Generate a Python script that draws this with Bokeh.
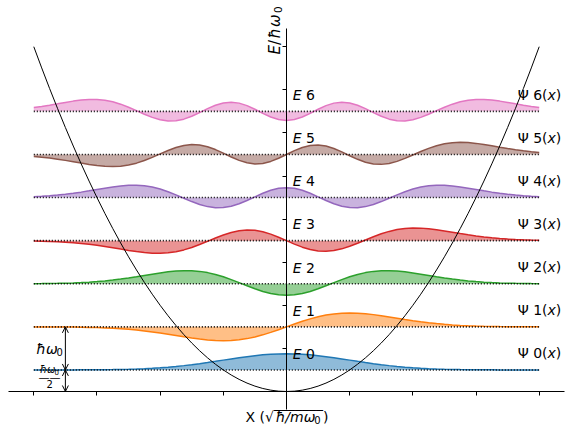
from bokeh.plotting import figure
from bokeh.models import (LinearAxis, FixedTicker, Label, Arrow, OpenHead,
                          Range1d, CustomJSTickFormatter, ColumnDataSource)
from bokeh.embed import file_html
from bokeh.resources import INLINE

# ---------------- data ----------------
x_pos = [-4.0, -3.875, -3.75, -3.625, -3.5, -3.375, -3.25, -3.125, -3.0, -2.875,
         -2.75, -2.625, -2.5, -2.375, -2.25, -2.125, -2.0, -1.875, -1.75, -1.625,
         -1.5, -1.375, -1.25, -1.125, -1.0, -0.875, -0.75, -0.625, -0.5, -0.375,
         -0.25, -0.125,
         0.0,
         0.125, 0.25, 0.375, 0.5, 0.625, 0.75, 0.875, 1.0, 1.125, 1.25, 1.375,
         1.5, 1.625, 1.75, 1.875, 2.0, 2.125, 2.25, 2.375, 2.5, 2.625, 2.75,
         2.875, 3.0, 3.125, 3.25, 3.375, 3.5, 3.625, 3.75, 3.875, 4.0]

potential = [8.0, 7.5078125, 7.03125, 6.5703125, 6.125, 5.6953125, 5.28125,
             4.8828125, 4.5, 4.1328125, 3.78125, 3.4453125, 3.125, 2.8203125,
             2.53125, 2.2578125, 2.0, 1.7578125, 1.53125, 1.3203125, 1.125,
             0.9453125, 0.78125, 0.6328125, 0.5, 0.3828125, 0.28125, 0.1953125,
             0.125, 0.0703125, 0.03125, 0.0078125,
             0.0,
             0.0078125, 0.03125, 0.0703125, 0.125, 0.1953125, 0.28125, 0.3828125,
             0.5, 0.6328125, 0.78125, 0.9453125, 1.125, 1.3203125, 1.53125,
             1.7578125, 2.0, 2.2578125, 2.53125, 2.8203125, 3.125, 3.4453125,
             3.78125, 4.1328125, 4.5, 4.8828125, 5.28125, 5.6953125, 6.125,
             6.5703125, 7.03125, 7.5078125, 8.0]

levels = [0, 1, 2, 3, 4, 5, 6]
energies = [0.5, 1.5, 2.5, 3.5, 4.5, 5.5, 6.5]

psi_0 = [0.0001, 0.0002, 0.0003, 0.0005, 0.0008, 0.0013, 0.0019, 0.0028, 0.0042,
         0.0060, 0.0086, 0.0120, 0.0165, 0.0224, 0.0299, 0.0393, 0.0508, 0.0648,
         0.0812, 0.1003, 0.1219, 0.1459, 0.1719, 0.1995, 0.2278, 0.2561, 0.2835,
         0.3089, 0.3314, 0.3501, 0.3640, 0.3726,
         0.3756,
         0.3726, 0.3640, 0.3501, 0.3314, 0.3089, 0.2835, 0.2561, 0.2278, 0.1995,
         0.1719, 0.1459, 0.1219, 0.1003, 0.0812, 0.0648, 0.0508, 0.0393, 0.0299,
         0.0224, 0.0165, 0.0120, 0.0086, 0.0060, 0.0042, 0.0028, 0.0019, 0.0013,
         0.0008, 0.0005, 0.0003, 0.0002, 0.0001]
psi_1 = [-0.0007, -0.0011, -0.0018, -0.0027, -0.0041, -0.0060, -0.0088, -0.0126,
         -0.0177, -0.0245, -0.0333, -0.0445, -0.0583, -0.0752, -0.0951, -0.1180,
         -0.1438, -0.1717, -0.2010, -0.2305, -0.2586, -0.2837, -0.3039, -0.3173,
         -0.3221, -0.3169, -0.3007, -0.2730, -0.2343, -0.1856, -0.1287, -0.0659,
         0.0,
         0.0659, 0.1287, 0.1856, 0.2343, 0.2730, 0.3007, 0.3169, 0.3221, 0.3173,
         0.3039, 0.2837, 0.2586, 0.2305, 0.2010, 0.1717, 0.1438, 0.1180, 0.0951,
         0.0752, 0.0583, 0.0445, 0.0333, 0.0245, 0.0177, 0.0126, 0.0088, 0.0060,
         0.0041, 0.0027, 0.0018, 0.0011, 0.0007]
psi_2 = [0.0028, 0.0042, 0.0064, 0.0094, 0.0137, 0.0194, 0.0272, 0.0373, 0.0502,
         0.0661, 0.0855, 0.1083, 0.1342, 0.1627, 0.1928, 0.2230, 0.2516, 0.2762,
         0.2943, 0.3036, 0.3017, 0.2870, 0.2584, 0.2160, 0.1611, 0.0962, 0.0251,
         -0.0478, -0.1172, -0.1779, -0.2252, -0.2553,
         -0.2656,
         -0.2553, -0.2252, -0.1779, -0.1172, -0.0478, 0.0251, 0.0962, 0.1611,
         0.2160, 0.2584, 0.2870, 0.3017, 0.3036, 0.2943, 0.2762, 0.2516, 0.2230,
         0.1928, 0.1627, 0.1342, 0.1083, 0.0855, 0.0661, 0.0502, 0.0373, 0.0272,
         0.0194, 0.0137, 0.0094, 0.0064, 0.0042, 0.0028]
psi_3 = [-0.0084, -0.0125, -0.0181, -0.0256, -0.0357, -0.0487, -0.0650, -0.0849,
         -0.1084, -0.1353, -0.1648, -0.1958, -0.2262, -0.2541, -0.2766, -0.2906,
         -0.2935, -0.2826, -0.2564, -0.2146, -0.1584, -0.0905, -0.0155, 0.0607,
         0.1315, 0.1900, 0.2302, 0.2473, 0.2392, 0.2061, 0.1510, 0.0798,
         0.0,
         -0.0798, -0.1510, -0.2061, -0.2392, -0.2473, -0.2302, -0.1900, -0.1315,
         -0.0607, 0.0155, 0.0905, 0.1584, 0.2146, 0.2564, 0.2826, 0.2935, 0.2906,
         0.2766, 0.2541, 0.2262, 0.1958, 0.1648, 0.1353, 0.1084, 0.0849, 0.0650,
         0.0487, 0.0357, 0.0256, 0.0181, 0.0125, 0.0084]
psi_4 = [0.0214, 0.0305, 0.0424, 0.0576, 0.0766, 0.0993, 0.1257, 0.1552, 0.1865,
         0.2177, 0.2464, 0.2696, 0.2838, 0.2859, 0.2730, 0.2435, 0.1971, 0.1355,
         0.0624, -0.0163, -0.0933, -0.1605, -0.2100, -0.2353, -0.2325, -0.2009,
         -0.1438, -0.0679, 0.0169, 0.0994, 0.1683, 0.2140,
         0.2300,
         0.2140, 0.1683, 0.0994, 0.0169, -0.0679, -0.1438, -0.2009, -0.2325,
         -0.2353, -0.2100, -0.1605, -0.0933, -0.0163, 0.0624, 0.1355, 0.1971,
         0.2435, 0.2730, 0.2859, 0.2838, 0.2696, 0.2464, 0.2177, 0.1865, 0.1552,
         0.1257, 0.0993, 0.0766, 0.0576, 0.0424, 0.0305, 0.0214]
psi_5 = [-0.0467, -0.0636, -0.0843, -0.1091, -0.1375, -0.1684, -0.2004, -0.2309,
         -0.2569, -0.2749, -0.2812, -0.2725, -0.2463, -0.2021, -0.1412, -0.0674,
         0.0131, 0.0921, 0.1603, 0.2087, 0.2302, 0.2206, 0.1799, 0.1131, 0.0294,
         -0.0588, -0.1377, -0.1944, -0.2193, -0.2079, -0.1617, -0.0883,
         0.0,
         0.0883, 0.1617, 0.2079, 0.2193, 0.1944, 0.1377, 0.0588, -0.0294, -0.1131,
         -0.1799, -0.2206, -0.2302, -0.2087, -0.1603, -0.0921, -0.0131, 0.0674,
         0.1412, 0.2021, 0.2463, 0.2725, 0.2812, 0.2749, 0.2569, 0.2309, 0.2004,
         0.1684, 0.1375, 0.1091, 0.0843, 0.0636, 0.0467]
psi_6 = [0.0883, 0.1144, 0.1439, 0.1757, 0.2080, 0.2375, 0.2612, 0.2749, 0.2747,
         0.2575, 0.2215, 0.1669, 0.0965, 0.0162, -0.0659, -0.1397, -0.1951,
         -0.2234, -0.2189, -0.1810, -0.1142, -0.0285, 0.0619, 0.1414, 0.1952,
         0.2131, 0.1908, 0.1321, 0.0479, -0.0458, -0.1303, -0.1890,
         -0.2099,
         -0.1890, -0.1303, -0.0458, 0.0479, 0.1321, 0.1908, 0.2131, 0.1952,
         0.1414, 0.0619, -0.0285, -0.1142, -0.1810, -0.2189, -0.2234, -0.1951,
         -0.1397, -0.0659, 0.0162, 0.0965, 0.1669, 0.2215, 0.2575, 0.2747, 0.2749,
         0.2612, 0.2375, 0.2080, 0.1757, 0.1439, 0.1144, 0.0883]
psi_all = [psi_0, psi_1, psi_2, psi_3, psi_4, psi_5, psi_6]

x_ticks = [-4, -3, -2, -1, 0, 1, 2, 3, 4]
y_ticks = [0, 1, 2, 3, 4, 5, 6, 7, 8]

colors = ["#1f77b4", "#ff7f0e", "#2ca02c", "#d62728", "#9467bd", "#8c564b", "#e377c2"]

FONT = "DejaVu Sans"

# ---------------- figure ----------------
p = figure(width=572, height=433,
           x_range=Range1d(-4.527, 4.527), y_range=Range1d(-0.9745, 9.072),
           x_axis_type=None, y_axis_type=None,
           toolbar_location=None, output_backend="svg",
           min_border_left=0, min_border_right=0,
           min_border_top=0, min_border_bottom=0)
p.outline_line_color = None
p.background_fill_color = "white"
p.border_fill_color = "white"

for n, E, psi, c in zip(levels, energies, psi_all, colors):
    src = ColumnDataSource(dict(x=x_pos,
                                base=[E] * len(x_pos),
                                top=[E + v for v in psi]))
    p.varea(x="x", y1="base", y2="top", source=src, fill_color=c, fill_alpha=0.5)
    p.line(x="x", y="top", source=src, line_color=c, line_width=1.5)
    p.line(x="x", y="base", source=src, line_color="black", line_width=1.6,
           line_dash="1 2")

p.line(x=x_pos, y=potential, line_color="black", line_width=1)

# axes through the origin
xaxis = LinearAxis(fixed_location=0, ticker=FixedTicker(ticks=x_ticks),
                   formatter=CustomJSTickFormatter(code="return '';"),
                   bounds=(-4.4, 4.4))
yaxis = LinearAxis(fixed_location=0, ticker=FixedTicker(ticks=y_ticks),
                   formatter=CustomJSTickFormatter(code="return '';"),
                   bounds=(-0.42, 8.42))
for ax in (xaxis, yaxis):
    ax.axis_line_color = "black"
    ax.axis_line_width = 1
    ax.major_tick_line_color = "black"
    ax.major_tick_line_width = 1
    ax.major_tick_out = 4
    ax.major_tick_in = 0
    ax.minor_tick_line_color = None
    ax.major_label_standoff = 0
p.add_layout(xaxis, "below")
p.add_layout(yaxis, "left")

FIX = 5  # baseline correction in px


def txt(x, y, text, size=14, style="normal", dx=0, dy=0, align="left",
        angle=0.0):
    if angle:
        dx -= FIX
    else:
        dy += FIX
    p.add_layout(Label(x=x, y=y, text=text, x_offset=dx, y_offset=dy,
                       text_font=FONT, text_font_size=f"{size}px",
                       text_font_style=style, text_align=align,
                       text_baseline="alphabetic", angle=angle,
                       text_color="black"))


# level labels
for n, E in zip(levels, energies):
    txt(0.1, E + 0.26, "E", style="italic")
    txt(0.1, E + 0.26, str(n), dx=13.3)
    # right-aligned wavefunction label  "Ψ n(x)"
    txt(4.35, E + 0.27, ")", align="right")
    txt(4.35, E + 0.27, "x", style="italic", align="right", dx=-5.5)
    txt(4.35, E + 0.27, f"Ψ {n}(", align="right", dx=-13.8)

# x axis title
txt(-0.65, -0.70, "X (√")
txt(-0.65, -0.70, "‾‾‾‾‾‾‾", dx=28.5, dy=1)
txt(-0.65, -0.70, "ħ/mω", style="italic", dx=30.2)
txt(-0.65, -0.70, "0", size=10, dx=68.9, dy=-3)
txt(-0.65, -0.70, ")", dx=77.5)

# y axis title (rotated)
YL = 7.82
R = 1.5708
txt(0, YL, "E", size=15, style="italic", dx=-7, angle=R)
txt(0, YL, "/", size=15, dx=-7, dy=9.5, angle=R)
txt(0, YL, "ħ", size=15, style="italic", dx=-7, dy=16, angle=R)
txt(0, YL, "ω", size=15, style="italic", dx=-7, dy=27.5, angle=R)
txt(0, YL, "0", size=10.5, dx=-4, dy=41.5, angle=R)

# energy spacing annotations
ARROW_X = -3.5
for y0, y1 in ((energies[0], energies[1]), (0.0, energies[0])):
    p.add_layout(Arrow(start=OpenHead(size=6, line_width=1, line_color="black"),
                       end=OpenHead(size=6, line_width=1, line_color="black"),
                       x_start=ARROW_X, y_start=y0, x_end=ARROW_X, y_end=y1,
                       line_color="black", line_width=1))

txt(-3.96, 0.88, "ħω", style="italic")
txt(-3.96, 0.88, "0", size=10, dx=20.3, dy=-3)

txt(-3.90, 0.39, "ħω", size=10, style="italic")
txt(-3.90, 0.39, "0", size=7, dx=14.5, dy=-2)
txt(-3.75, 0.21, "——", size=11, align="center")
txt(-3.75, 0.065, "2", size=10, align="center")

open("out.html", "w").write(file_html(p, INLINE))
